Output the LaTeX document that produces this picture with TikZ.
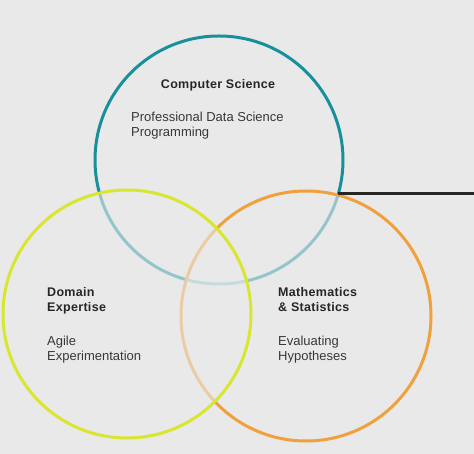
\documentclass[tikz,border=0pt]{standalone}
\usepackage{fontspec}
\setmainfont{Liberation Sans}
\usetikzlibrary{intersections}
\definecolor{bg}{HTML}{E9E9E9}
\definecolor{tealc}{HTML}{17909C}
\definecolor{yellowc}{HTML}{D8E62E}
\definecolor{orangec}{HTML}{F0A03C}
\tikzset{
  ring/.style={line width=3pt, fill=bg, fill opacity=0.6},
  title/.style={anchor=base west, inner sep=0pt, font=\bfseries\fontsize{12.5}{14}\selectfont\addfontfeature{LetterSpace=2.5}, text=black!85},
  body/.style={anchor=base west, inner sep=0pt, font=\fontsize{13}{15}\selectfont, text=black!78},
}
\begin{document}
\begin{tikzpicture}[x=1pt,y=-1pt]
\fill[bg] (0,0) rectangle (474,454);
\useasboundingbox (0,0) rectangle (474,454);
\draw[ring, draw=tealc, name path=cs] (219,160) circle[radius=124];
\draw[ring, draw=orangec, name path=ms] (306,316) circle[radius=125];
\draw[ring, draw=yellowc] (127,314) circle[radius=124];
\path[name intersections={of=cs and ms, by={i1,i2}}];
\coordinate (lineend) at (474,194);
\draw[line width=3pt, black!85] (i1 |- lineend) -- (lineend);
\node[title, anchor=base] (cst) at (218,89) {Computer Science};
\node[body] (csb1) at (131,122) {Professional Data Science};
\node[body] (csb2) at (131,137) {Programming};
\node[title] (de1) at (47,297) {Domain};
\node[title] (de2) at (47,312) {Expertise};
\node[body] (de3) at (47,345) {Agile};
\node[body] (de4) at (47,360) {Experimentation};
\node[title] (ma1) at (278,297) {Mathematics};
\node[title] (ma2) at (278,312) {\& Statistics};
\node[body] (ma3) at (278,345) {Evaluating};
\node[body] (ma4) at (278,360) {Hypotheses};
\end{tikzpicture}
\end{document}
